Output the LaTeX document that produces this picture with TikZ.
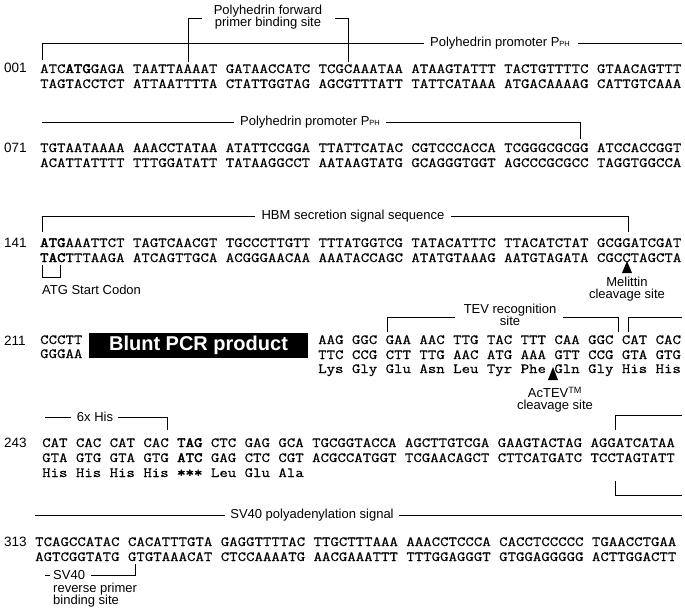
\documentclass[tikz,border=0pt]{standalone}
\usepackage{fontspec}
\setmainfont{Liberation Sans}
\newfontfamily\seqf[FakeStretch=1.17,FakeBold=0.6]{Latin Modern Mono}
\newfontfamily\seqb[FakeStretch=1.17,FakeBold=3]{Latin Modern Mono}
\tikzset{
 seq/.style={anchor=base west,inner sep=0pt,font=\seqf\fontsize{14}{16}\selectfont},
 lab/.style={inner sep=0pt,font=\fontsize{13}{14}\selectfont,align=center},
 num/.style={anchor=base west,inner sep=0pt,font=\fontsize{13.5}{14}\selectfont},
 br/.style={line width=0.9pt},
 tri/.style={fill=black,draw=none}
}
\newcommand{\PH}{P{\fontsize{7.5}{8}\selectfont PH}}
\begin{document}
\begin{tikzpicture}[x=1pt,y=-1pt]
\useasboundingbox (0,0) rectangle (685,615);
% row 001
\node[num] (n1) at (4,73) {001};
\node[seq] (r1a) at (40,73) {ATC{\seqb ATG}GAGA TAATTAAAAT GATAACCATC TCGCAAATAA ATAAGTATTT TACTGTTTTC GTAACAGTTT};
\node[seq] (r1b) at (40,88) {TAGTACCTCT ATTAATTTTA CTATTGGTAG AGCGTTTATT TATTCATAAA ATGACAAAAG CATTGTCAAA};
\node[lab] (fp) at (268,17) {Polyhedrin forward\\[-2pt]primer binding site};
\draw[br] (188,62) -- (188,18) -- (202,18);
\draw[br] (335,18) -- (348,18) -- (348,62);
\node[lab] (pp1) at (500,43) {Polyhedrin promoter \PH};
\draw[br] (42,60) -- (42,43) -- ([xshift=-6]pp1.west);
\draw[br] ([xshift=8]pp1.east) -- (682,43);
% row 071
\node[num] (n2) at (4,152) {071};
\node[seq] (r2a) at (40,152) {TGTAATAAAA AAACCTATAA ATATTCCGGA TTATTCATAC CGTCCCACCA TCGGGCGCGG ATCCACCGGT};
\node[seq] (r2b) at (40,167) {ACATTATTTT TTTGGATATT TATAAGGCCT AATAAGTATG GCAGGGTGGT AGCCCGCGCC TAGGTGGCCA};
\node[lab] (pp2) at (310,122) {Polyhedrin promoter \PH};
\draw[br] (42,122) -- ([xshift=-6]pp2.west);
\draw[br] ([xshift=6]pp2.east) -- (580,122) -- (580,139);
% row 141
\node[num] (n3) at (4,247) {141};
\node[seq] (r3a) at (40,247) {{\seqb ATG}AAATTCT TAGTCAACGT TGCCCTTGTT TTTATGGTCG TATACATTTC TTACATCTAT GCGGATCGAT};
\node[seq] (r3b) at (40,262) {{\seqb TAC}TTTAAGA ATCAGTTGCA ACGGGAACAA AAATACCAGC ATATGTAAAG AATGTAGATA CGCCTAGCTA};
\node[lab] (hbm) at (353,216) {HBM secretion signal sequence};
\draw[br] (42,232) -- (42,216) -- ([xshift=-6]hbm.west);
\draw[br] ([xshift=6]hbm.east) -- (628,216) -- (628,232);
\draw[br] (42,265) -- (42,277) -- (60,277) -- (60,265);
\node[lab,anchor=west] (atg) at (42,290) {ATG Start Codon};
\fill[tri] (622,273) -- (632,273) -- (627,261) -- cycle;
\node[lab] (mel) at (627,289) {Melittin\\[-2pt]cleavage site};
% row 211
\node[num] (n4) at (4,345) {211};
\node[seq] (r4a) at (40,344) {CCCTT};
\node[seq] (r4b) at (40,358) {GGGAA};
\node[fill=black,text=white,font=\bfseries\fontsize{20}{22}\selectfont,minimum width=219pt,minimum height=25pt,inner sep=0pt] (blunt) at (198.5,345.5) {Blunt PCR product};
\node[seq] (r4c) at (318,344) {AAG GGC GAA AAC TTG TAC TTT CAA GGC CAT CAC};
\node[seq] (r4d) at (318,359) {TTC CCG CTT TTG AAC ATG AAA GTT CCG GTA GTG};
\node[seq] (r4e) at (318,373) {Lys Gly Glu Asn Leu Tyr Phe Gln Gly His His};
\node[lab] (tev) at (510,315) {TEV recognition\\[-2pt]site};
\draw[br] (387,332) -- (387,317) -- (455,317);
\draw[br] (563,317) -- (618,317) -- (618,332);
\draw[br] (628,332) -- (628,317) -- (682,317);
\fill[tri] (548,380) -- (558,380) -- (553,367) -- cycle;
\node[lab] (actev) at (555,400) {AcTEV\textsuperscript{TM}\\[-2pt]cleavage site};
% row 243
\node[num] (n5) at (4,447) {243};
\node[seq] (r5a) at (42,447) {CAT CAC CAT CAC {\seqb TAG} CTC GAG GCA TGCGGTACCA AGCTTGTCGA GAAGTACTAG AGGATCATAA};
\node[seq] (r5b) at (42,462) {GTA GTG GTA GTG {\seqb ATC} GAG CTC CGT ACGCCATGGT TCGAACAGCT CTTCATGATC TCCTAGTATT};
\node[seq] (r5c) at (42,477) {His His His His {\seqb ***} Leu Glu Ala};
\node[lab] (his) at (95,417) {6x His};
\draw[br] (45,417) -- ([xshift=-6]his.west);
\draw[br] ([xshift=5]his.east) -- (167,417) -- (167,430);
\draw[br] (615,430) -- (615,415) -- (682,415);
\draw[br] (615,481) -- (615,495) -- (682,495);
% row 313
\node[num] (n6) at (4,546) {313};
\node[seq] (r6a) at (35,546) {TCAGCCATAC CACATTTGTA GAGGTTTTAC TTGCTTTAAA AAACCTCCCA CACCTCCCCC TGAACCTGAA};
\node[seq] (r6b) at (35,561) {AGTCGGTATG GTGTAAACAT CTCCAAAATG AACGAAATTT TTTGGAGGGT GTGGAGGGGG ACTTGGACTT};
\node[lab] (sv) at (312,515) {SV40 polyadenylation signal};
\draw[br] (35,515) -- ([xshift=-5]sv.west);
\draw[br] ([xshift=5]sv.east) -- (682,515);
\node[lab,anchor=west] (svr) at (53,575) {SV40};
\node[lab,anchor=north west,align=left] (svr2) at (53,583) {reverse primer\\[-2pt]binding site};
\draw[br] (45,575) -- (50,575);
\draw[br] ([xshift=6]svr.east) -- (135,575) -- (135,564);
\end{tikzpicture}
\end{document}
